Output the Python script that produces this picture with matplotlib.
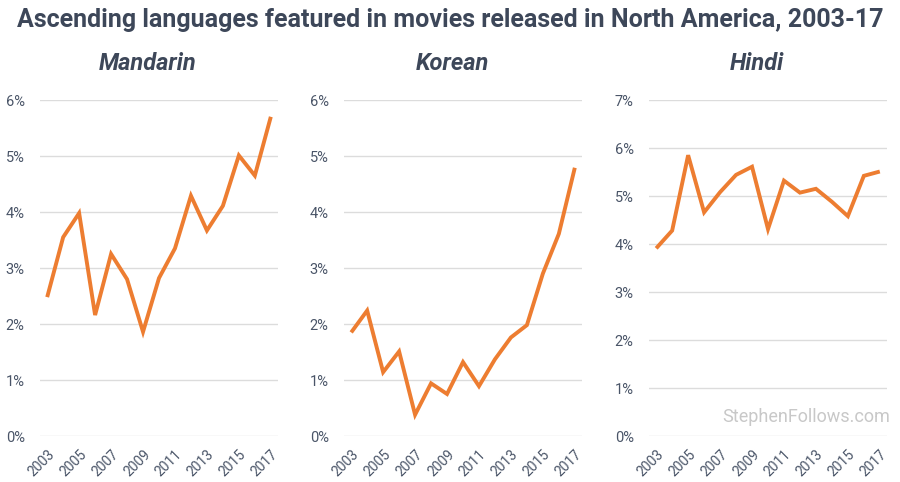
import matplotlib.pyplot as plt
from matplotlib.ticker import FuncFormatter

years = list(range(2003, 2018))
mandarin = [2.48, 3.55, 3.98, 2.16, 3.25, 2.80, 1.86, 2.82, 3.35, 4.29, 3.67, 4.11, 5.01, 4.65, 5.70]
korean = [1.85, 2.24, 1.14, 1.51, 0.38, 0.94, 0.75, 1.32, 0.89, 1.37, 1.76, 1.98, 2.90, 3.61, 4.79]
hindi = [3.91, 4.28, 5.85, 4.66, 5.08, 5.44, 5.61, 4.31, 5.32, 5.07, 5.15, 4.88, 4.58, 5.42, 5.51]

panels = [('Mandarin', mandarin, 6), ('Korean', korean, 6), ('Hindi', hindi, 7)]
lefts = [40, 344, 649]
title_x = [148, 452, 757]

ORANGE = '#ED7D31'
TEXT = '#4A5568'
TITLE = '#3D4759'
GRID = '#DCDCDC'

plt.rcParams['font.family'] = ['Roboto', 'DejaVu Sans']

fig = plt.figure(figsize=(9, 4.82), dpi=100)
W, H = 900, 482

for (name, vals, ymax), left, tx in zip(panels, lefts, title_x):
    ax = fig.add_axes([left / W, 1 - 436 / H, 238 / W, 336 / H])
    ax.plot(years, vals, color=ORANGE, lw=2.8, solid_joinstyle='miter', solid_capstyle='butt', zorder=3)
    ax.set_ylim(0, ymax)
    ax.set_xlim(2002.55, 2017.45)
    ax.set_yticks(range(0, ymax + 1))
    ax.yaxis.set_major_formatter(FuncFormatter(lambda v, p: f'{int(v)}%'))
    ax.set_xticks(years[::2])
    ax.set_xticklabels([str(y) for y in years[::2]], rotation=45, ha='right', va='top',
                       rotation_mode='anchor')
    ax.grid(axis='y', color=GRID, lw=1)
    ax.set_axisbelow(True)
    for s in ax.spines.values():
        s.set_visible(False)
    ax.tick_params(axis='both', length=0, labelsize=10.5, labelcolor=TEXT)
    ax.tick_params(axis='y', pad=11)
    ax.tick_params(axis='x', labelsize=10, pad=8)
    fig.text(tx / W, 1 - 63 / H, name, ha='center', va='center', fontsize=17,
             fontweight='bold', style='italic', color=TITLE)

fig.text(0.5, 1 - 20 / H, 'Ascending languages featured in movies released in North America, 2003-17',
         ha='center', va='center', fontsize=18, fontweight='bold', color=TITLE)
fig.text(890 / W, 1 - 417 / H, 'StephenFollows.com', ha='right', va='center',
         fontsize=13, color='#C8C8C8')

fig.savefig('out.png', dpi=100)
